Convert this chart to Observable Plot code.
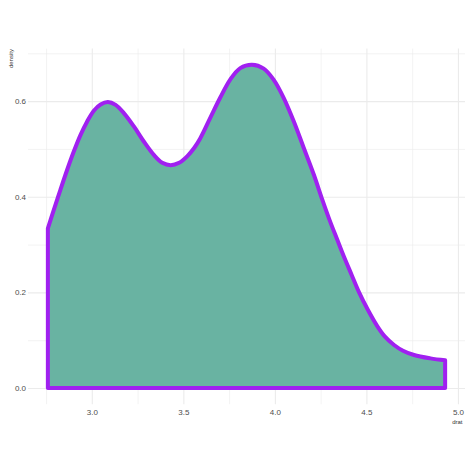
<!DOCTYPE html>
<html>
<head>
<meta charset="utf-8">
<script src="https://cdn.jsdelivr.net/npm/d3@7"></script>
<script src="https://cdn.jsdelivr.net/npm/@observablehq/plot@0.6"></script>
<style>
  html, body { margin: 0; padding: 0; background: #ffffff; }
  #chart { width: 474px; height: 474px; }
  svg { display: block; }
</style>
</head>
<body>
<div id="chart"></div>
<script>
// drat values and estimated density
const drat = [2.76, 2.792, 2.828, 2.865, 2.901, 2.938, 2.974, 3.011, 3.048, 3.088, 3.130, 3.175, 3.230, 3.285, 3.340, 3.385, 3.431, 3.477, 3.522, 3.559, 3.592, 3.647, 3.701, 3.756, 3.811, 3.875, 3.939, 3.993, 4.048, 4.103, 4.158, 4.213, 4.258, 4.300, 4.341, 4.377, 4.420, 4.460, 4.510, 4.560, 4.600, 4.651, 4.700, 4.760, 4.850, 4.930];
const density = [0.334, 0.372, 0.414, 0.456, 0.494, 0.529, 0.557, 0.580, 0.593, 0.598, 0.592, 0.575, 0.547, 0.515, 0.487, 0.471, 0.466, 0.471, 0.485, 0.502, 0.522, 0.565, 0.607, 0.645, 0.669, 0.676, 0.668, 0.645, 0.607, 0.558, 0.502, 0.446, 0.395, 0.350, 0.310, 0.275, 0.236, 0.200, 0.162, 0.129, 0.108, 0.090, 0.078, 0.069, 0.062, 0.058];

const xMajor = [3.0, 3.5, 4.0, 4.5, 5.0];
const xMinor = [2.75, 3.25, 3.75, 4.25, 4.75];
const yMajor = [0.0, 0.2, 0.4, 0.6];
const yMinor = [0.1, 0.3, 0.5, 0.7];

const data = drat.map((x, i) => ({drat: x, density: density[i]}));

const xPad = (d3.max(drat) - d3.min(drat)) * 0.05;
const yPad = d3.max(density) * 0.05;

const font = "'Liberation Sans', Arial, sans-serif";

const chart = Plot.plot({
  width: 474,
  height: 474,
  marginLeft: 28,
  marginRight: 9,
  marginTop: 48.6,
  marginBottom: 69.8,
  style: {fontFamily: font, background: "#ffffff"},
  x: {domain: [d3.min(drat) - xPad, d3.max(drat) + xPad]},
  y: {domain: [-yPad, d3.max(density) + yPad]},
  marks: [
    Plot.ruleX(xMinor, {stroke: "#ebebeb", strokeWidth: 0.6}),
    Plot.ruleY(yMinor, {stroke: "#ebebeb", strokeWidth: 0.6}),
    Plot.ruleX(xMajor, {stroke: "#ebebeb", strokeWidth: 1.1}),
    Plot.ruleY(yMajor, {stroke: "#ebebeb", strokeWidth: 1.1}),
    Plot.areaY(data, {
      x: "drat", y: "density",
      fill: "#69b3a2", stroke: "#a020f0", strokeWidth: 4,
      strokeLinejoin: "round", curve: "catmull-rom"
    }),
    Plot.axisX(xMajor, {
      tickSize: 0, tickPadding: 4.5, tickFormat: d3.format(".1f"),
      fontSize: 8, fill: "#4d4d4d", label: null
    }),
    Plot.axisY(yMajor, {
      tickSize: 0, tickPadding: 2.5, tickFormat: d3.format(".1f"),
      fontSize: 8, fill: "#4d4d4d", label: null
    }),
    Plot.text(["drat"], {
      frameAnchor: "bottom-right", text: d => d, textAnchor: "end", lineAnchor: "top",
      dx: -3, dy: 15, fontSize: 6, fill: "#333333"
    }),
    Plot.text(["density"], {
      frameAnchor: "top-left", text: d => d, rotate: -90, textAnchor: "end",
      dx: -20, dy: 0, fontSize: 6, fill: "#333333"
    })
  ]
});

document.getElementById("chart").appendChild(chart);
</script>
</body>
</html>
